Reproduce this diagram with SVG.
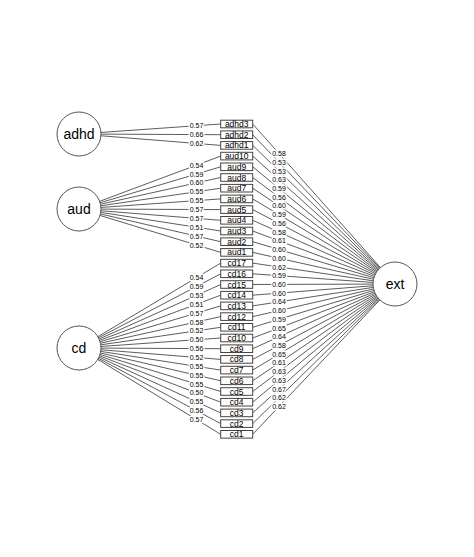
<svg xmlns="http://www.w3.org/2000/svg" width="474" height="557" viewBox="0 0 474 557">
<style>
.e{stroke:#333;stroke-width:0.8;fill:none}
.lt{fill:#fff;stroke:#555;stroke-width:1}
.ob{fill:#fff;stroke:#444;stroke-width:1}
.ln{font-family:"Liberation Sans",Arial,sans-serif;font-size:14px;text-anchor:middle;dominant-baseline:central;fill:#000}
.on{font-family:"Liberation Sans",Arial,sans-serif;font-size:8.5px;text-anchor:middle;dominant-baseline:central;fill:#000}
.el text{font-family:"Liberation Sans",Arial,sans-serif;font-size:7px;text-anchor:middle;dominant-baseline:central;fill:#000;stroke:#fff;stroke-width:3;paint-order:stroke;stroke-linejoin:round}
</style>
<rect width="474" height="557" fill="#fff"/>
<g id="connectors">
<g class="e">
<line x1="79" y1="134" x2="220.7" y2="124"/>
<line x1="79" y1="134" x2="220.7" y2="134.7"/>
<line x1="79" y1="134" x2="220.7" y2="145.4"/>
<line x1="79" y1="209" x2="220.7" y2="156.1"/>
<line x1="79" y1="209" x2="220.7" y2="166.8"/>
<line x1="79" y1="209" x2="220.7" y2="177.5"/>
<line x1="79" y1="209" x2="220.7" y2="188.2"/>
<line x1="79" y1="209" x2="220.7" y2="198.9"/>
<line x1="79" y1="209" x2="220.7" y2="209.6"/>
<line x1="79" y1="209" x2="220.7" y2="220.3"/>
<line x1="79" y1="209" x2="220.7" y2="231"/>
<line x1="79" y1="209" x2="220.7" y2="241.7"/>
<line x1="79" y1="209" x2="220.7" y2="252.4"/>
<line x1="79" y1="348" x2="220.7" y2="263.1"/>
<line x1="79" y1="348" x2="220.7" y2="273.8"/>
<line x1="79" y1="348" x2="220.7" y2="284.5"/>
<line x1="79" y1="348" x2="220.7" y2="295.2"/>
<line x1="79" y1="348" x2="220.7" y2="305.9"/>
<line x1="79" y1="348" x2="220.7" y2="316.6"/>
<line x1="79" y1="348" x2="220.7" y2="327.3"/>
<line x1="79" y1="348" x2="220.7" y2="338"/>
<line x1="79" y1="348" x2="220.7" y2="348.7"/>
<line x1="79" y1="348" x2="220.7" y2="359.4"/>
<line x1="79" y1="348" x2="220.7" y2="370.1"/>
<line x1="79" y1="348" x2="220.7" y2="380.8"/>
<line x1="79" y1="348" x2="220.7" y2="391.5"/>
<line x1="79" y1="348" x2="220.7" y2="402.2"/>
<line x1="79" y1="348" x2="220.7" y2="412.9"/>
<line x1="79" y1="348" x2="220.7" y2="423.6"/>
<line x1="79" y1="348" x2="220.7" y2="434.3"/>
<line x1="252.7" y1="124" x2="395" y2="284"/>
<line x1="252.7" y1="134.7" x2="395" y2="284"/>
<line x1="252.7" y1="145.4" x2="395" y2="284"/>
<line x1="252.7" y1="156.1" x2="395" y2="284"/>
<line x1="252.7" y1="166.8" x2="395" y2="284"/>
<line x1="252.7" y1="177.5" x2="395" y2="284"/>
<line x1="252.7" y1="188.2" x2="395" y2="284"/>
<line x1="252.7" y1="198.9" x2="395" y2="284"/>
<line x1="252.7" y1="209.6" x2="395" y2="284"/>
<line x1="252.7" y1="220.3" x2="395" y2="284"/>
<line x1="252.7" y1="231" x2="395" y2="284"/>
<line x1="252.7" y1="241.7" x2="395" y2="284"/>
<line x1="252.7" y1="252.4" x2="395" y2="284"/>
<line x1="252.7" y1="263.1" x2="395" y2="284"/>
<line x1="252.7" y1="273.8" x2="395" y2="284"/>
<line x1="252.7" y1="284.5" x2="395" y2="284"/>
<line x1="252.7" y1="295.2" x2="395" y2="284"/>
<line x1="252.7" y1="305.9" x2="395" y2="284"/>
<line x1="252.7" y1="316.6" x2="395" y2="284"/>
<line x1="252.7" y1="327.3" x2="395" y2="284"/>
<line x1="252.7" y1="338" x2="395" y2="284"/>
<line x1="252.7" y1="348.7" x2="395" y2="284"/>
<line x1="252.7" y1="359.4" x2="395" y2="284"/>
<line x1="252.7" y1="370.1" x2="395" y2="284"/>
<line x1="252.7" y1="380.8" x2="395" y2="284"/>
<line x1="252.7" y1="391.5" x2="395" y2="284"/>
<line x1="252.7" y1="402.2" x2="395" y2="284"/>
<line x1="252.7" y1="412.9" x2="395" y2="284"/>
<line x1="252.7" y1="423.6" x2="395" y2="284"/>
<line x1="252.7" y1="434.3" x2="395" y2="284"/>
</g>
<g class="el">
<text x="196.5" y="125.7">0.57</text>
<text x="196.5" y="134.6">0.66</text>
<text x="196.5" y="143.5">0.62</text>
<text x="196.5" y="165.1">0.54</text>
<text x="196.5" y="174">0.59</text>
<text x="196.5" y="182.9">0.60</text>
<text x="196.5" y="191.8">0.55</text>
<text x="196.5" y="200.6">0.55</text>
<text x="196.5" y="209.5">0.57</text>
<text x="196.5" y="218.4">0.57</text>
<text x="196.5" y="227.2">0.51</text>
<text x="196.5" y="236.1">0.57</text>
<text x="196.5" y="245">0.52</text>
<text x="196.5" y="277.6">0.54</text>
<text x="196.5" y="286.5">0.59</text>
<text x="196.5" y="295.3">0.53</text>
<text x="196.5" y="304.2">0.51</text>
<text x="196.5" y="313.1">0.57</text>
<text x="196.5" y="322">0.58</text>
<text x="196.5" y="330.8">0.52</text>
<text x="196.5" y="339.7">0.50</text>
<text x="196.5" y="348.6">0.56</text>
<text x="196.5" y="357.5">0.52</text>
<text x="196.5" y="366.3">0.55</text>
<text x="196.5" y="375.2">0.55</text>
<text x="196.5" y="384.1">0.55</text>
<text x="196.5" y="392.9">0.50</text>
<text x="196.5" y="401.8">0.55</text>
<text x="196.5" y="410.7">0.56</text>
<text x="196.5" y="419.6">0.57</text>
<text x="279" y="153.6">0.58</text>
<text x="279" y="162.3">0.53</text>
<text x="279" y="171">0.53</text>
<text x="279" y="179.7">0.63</text>
<text x="279" y="188.5">0.59</text>
<text x="279" y="197.2">0.56</text>
<text x="279" y="205.9">0.60</text>
<text x="279" y="214.6">0.59</text>
<text x="279" y="223.4">0.56</text>
<text x="279" y="232.1">0.58</text>
<text x="279" y="240.8">0.61</text>
<text x="279" y="249.5">0.60</text>
<text x="279" y="258.2">0.60</text>
<text x="279" y="267">0.62</text>
<text x="279" y="275.7">0.59</text>
<text x="279" y="284.4">0.60</text>
<text x="279" y="293.1">0.60</text>
<text x="279" y="301.9">0.64</text>
<text x="279" y="310.6">0.60</text>
<text x="279" y="319.3">0.59</text>
<text x="279" y="328">0.65</text>
<text x="279" y="336.7">0.64</text>
<text x="279" y="345.5">0.58</text>
<text x="279" y="354.2">0.65</text>
<text x="279" y="362.9">0.61</text>
<text x="279" y="371.6">0.63</text>
<text x="279" y="380.4">0.63</text>
<text x="279" y="389.1">0.67</text>
<text x="279" y="397.8">0.62</text>
<text x="279" y="406.5">0.62</text>
</g>
</g>
<g id="adhd"><circle class="lt" cx="79" cy="134" r="22"/><text class="ln" x="79" y="134">adhd</text></g>
<g id="aud"><circle class="lt" cx="79" cy="209" r="22"/><text class="ln" x="79" y="209">aud</text></g>
<g id="cd"><circle class="lt" cx="79" cy="348" r="22"/><text class="ln" x="79" y="348">cd</text></g>
<g id="ext"><circle class="lt" cx="395" cy="284" r="22"/><text class="ln" x="395" y="284">ext</text></g>
<g id="adhd3"><rect class="ob" x="220.7" y="120.2" width="32" height="7.6"/><text class="on" x="236.7" y="124">adhd3</text></g>
<g id="adhd2"><rect class="ob" x="220.7" y="130.9" width="32" height="7.6"/><text class="on" x="236.7" y="134.7">adhd2</text></g>
<g id="adhd1"><rect class="ob" x="220.7" y="141.6" width="32" height="7.6"/><text class="on" x="236.7" y="145.4">adhd1</text></g>
<g id="aud10"><rect class="ob" x="220.7" y="152.3" width="32" height="7.6"/><text class="on" x="236.7" y="156.1">aud10</text></g>
<g id="aud9"><rect class="ob" x="220.7" y="163" width="32" height="7.6"/><text class="on" x="236.7" y="166.8">aud9</text></g>
<g id="aud8"><rect class="ob" x="220.7" y="173.7" width="32" height="7.6"/><text class="on" x="236.7" y="177.5">aud8</text></g>
<g id="aud7"><rect class="ob" x="220.7" y="184.4" width="32" height="7.6"/><text class="on" x="236.7" y="188.2">aud7</text></g>
<g id="aud6"><rect class="ob" x="220.7" y="195.1" width="32" height="7.6"/><text class="on" x="236.7" y="198.9">aud6</text></g>
<g id="aud5"><rect class="ob" x="220.7" y="205.8" width="32" height="7.6"/><text class="on" x="236.7" y="209.6">aud5</text></g>
<g id="aud4"><rect class="ob" x="220.7" y="216.5" width="32" height="7.6"/><text class="on" x="236.7" y="220.3">aud4</text></g>
<g id="aud3"><rect class="ob" x="220.7" y="227.2" width="32" height="7.6"/><text class="on" x="236.7" y="231">aud3</text></g>
<g id="aud2"><rect class="ob" x="220.7" y="237.9" width="32" height="7.6"/><text class="on" x="236.7" y="241.7">aud2</text></g>
<g id="aud1"><rect class="ob" x="220.7" y="248.6" width="32" height="7.6"/><text class="on" x="236.7" y="252.4">aud1</text></g>
<g id="cd17"><rect class="ob" x="220.7" y="259.3" width="32" height="7.6"/><text class="on" x="236.7" y="263.1">cd17</text></g>
<g id="cd16"><rect class="ob" x="220.7" y="270" width="32" height="7.6"/><text class="on" x="236.7" y="273.8">cd16</text></g>
<g id="cd15"><rect class="ob" x="220.7" y="280.7" width="32" height="7.6"/><text class="on" x="236.7" y="284.5">cd15</text></g>
<g id="cd14"><rect class="ob" x="220.7" y="291.4" width="32" height="7.6"/><text class="on" x="236.7" y="295.2">cd14</text></g>
<g id="cd13"><rect class="ob" x="220.7" y="302.1" width="32" height="7.6"/><text class="on" x="236.7" y="305.9">cd13</text></g>
<g id="cd12"><rect class="ob" x="220.7" y="312.8" width="32" height="7.6"/><text class="on" x="236.7" y="316.6">cd12</text></g>
<g id="cd11"><rect class="ob" x="220.7" y="323.5" width="32" height="7.6"/><text class="on" x="236.7" y="327.3">cd11</text></g>
<g id="cd10"><rect class="ob" x="220.7" y="334.2" width="32" height="7.6"/><text class="on" x="236.7" y="338">cd10</text></g>
<g id="cd9"><rect class="ob" x="220.7" y="344.9" width="32" height="7.6"/><text class="on" x="236.7" y="348.7">cd9</text></g>
<g id="cd8"><rect class="ob" x="220.7" y="355.6" width="32" height="7.6"/><text class="on" x="236.7" y="359.4">cd8</text></g>
<g id="cd7"><rect class="ob" x="220.7" y="366.3" width="32" height="7.6"/><text class="on" x="236.7" y="370.1">cd7</text></g>
<g id="cd6"><rect class="ob" x="220.7" y="377" width="32" height="7.6"/><text class="on" x="236.7" y="380.8">cd6</text></g>
<g id="cd5"><rect class="ob" x="220.7" y="387.7" width="32" height="7.6"/><text class="on" x="236.7" y="391.5">cd5</text></g>
<g id="cd4"><rect class="ob" x="220.7" y="398.4" width="32" height="7.6"/><text class="on" x="236.7" y="402.2">cd4</text></g>
<g id="cd3"><rect class="ob" x="220.7" y="409.1" width="32" height="7.6"/><text class="on" x="236.7" y="412.9">cd3</text></g>
<g id="cd2"><rect class="ob" x="220.7" y="419.8" width="32" height="7.6"/><text class="on" x="236.7" y="423.6">cd2</text></g>
<g id="cd1"><rect class="ob" x="220.7" y="430.5" width="32" height="7.6"/><text class="on" x="236.7" y="434.3">cd1</text></g>
</svg>
